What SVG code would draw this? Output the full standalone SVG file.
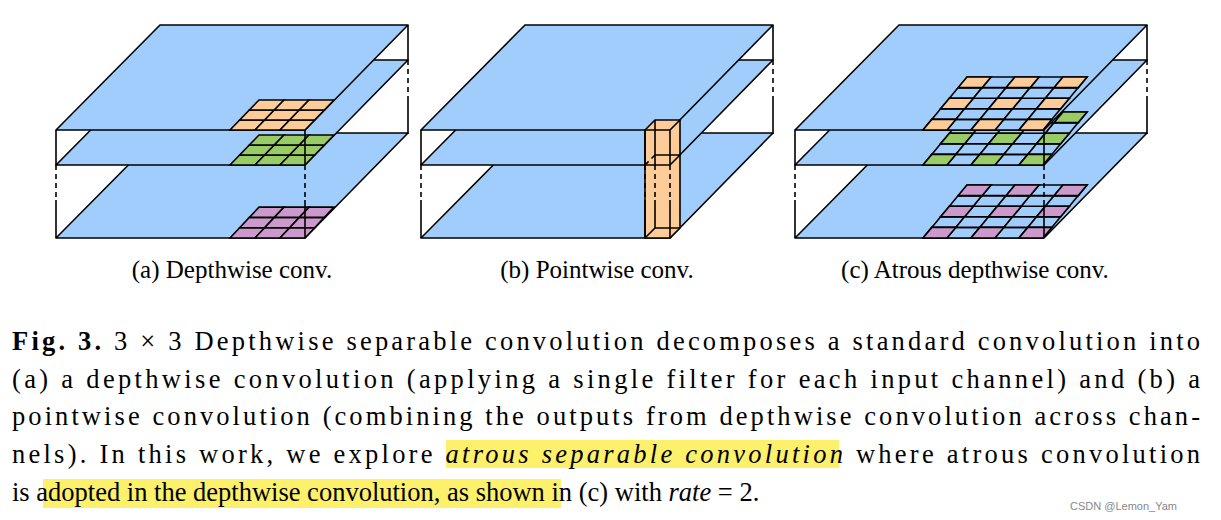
<svg xmlns="http://www.w3.org/2000/svg" width="1221" height="520" viewBox="0 0 1221 520">
<style>
.pl{fill:#a0cdfb;stroke:#000;stroke-width:1.6;stroke-linejoin:round}
.ln{stroke:#000;stroke-width:1.6;fill:none}
.dl{stroke:#000;stroke-width:1.6;fill:none;stroke-dasharray:5 4}
.cell{stroke:#000;stroke-width:1.6;vector-effect:non-scaling-stroke}
.cap{font-family:"Liberation Serif",serif;font-size:25px;fill:#000}
.body{font-family:"Liberation Serif",serif;font-size:26.5px;fill:#000}
</style>
<defs>
<path id="plane" d="M56,0 L305,0 L408,-105 L160,-105 Z"/>
<g id="g3">
<rect class="cell" x="0" y="0" width="25" height="1"/><rect class="cell" x="25" y="0" width="25" height="1"/><rect class="cell" x="50" y="0" width="25" height="1"/>
<rect class="cell" x="0" y="1" width="25" height="1"/><rect class="cell" x="25" y="1" width="25" height="1"/><rect class="cell" x="50" y="1" width="25" height="1"/>
<rect class="cell" x="0" y="2" width="25" height="1"/><rect class="cell" x="25" y="2" width="25" height="1"/><rect class="cell" x="50" y="2" width="25" height="1"/>
</g>
<g id="g5">
<rect class="cell" x="0" y="0" width="24" height="1"/><rect class="cell" x="24" y="0" width="24" height="1"/><rect class="cell" x="48" y="0" width="24" height="1"/><rect class="cell" x="72" y="0" width="24" height="1"/><rect class="cell" x="96" y="0" width="24" height="1"/>
<rect class="cell" x="0" y="1" width="24" height="1"/><rect class="cell" x="24" y="1" width="24" height="1"/><rect class="cell" x="48" y="1" width="24" height="1"/><rect class="cell" x="72" y="1" width="24" height="1"/><rect class="cell" x="96" y="1" width="24" height="1"/>
<rect class="cell" x="0" y="2" width="24" height="1"/><rect class="cell" x="24" y="2" width="24" height="1"/><rect class="cell" x="48" y="2" width="24" height="1"/><rect class="cell" x="72" y="2" width="24" height="1"/><rect class="cell" x="96" y="2" width="24" height="1"/>
<rect class="cell" x="0" y="3" width="24" height="1"/><rect class="cell" x="24" y="3" width="24" height="1"/><rect class="cell" x="48" y="3" width="24" height="1"/><rect class="cell" x="72" y="3" width="24" height="1"/><rect class="cell" x="96" y="3" width="24" height="1"/>
<rect class="cell" x="0" y="4" width="24" height="1"/><rect class="cell" x="24" y="4" width="24" height="1"/><rect class="cell" x="48" y="4" width="24" height="1"/><rect class="cell" x="72" y="4" width="24" height="1"/><rect class="cell" x="96" y="4" width="24" height="1"/>
</g>
<g id="g5c">
<rect class="cell" x="0" y="0" width="24" height="1"/><rect class="cell" x="48" y="0" width="24" height="1"/><rect class="cell" x="96" y="0" width="24" height="1"/>
<rect class="cell" x="0" y="2" width="24" height="1"/><rect class="cell" x="48" y="2" width="24" height="1"/><rect class="cell" x="96" y="2" width="24" height="1"/>
<rect class="cell" x="0" y="4" width="24" height="1"/><rect class="cell" x="48" y="4" width="24" height="1"/><rect class="cell" x="96" y="4" width="24" height="1"/>
</g>
<g id="edges">
<path class="ln" d="M56,130 V165 M56,200 V238 M305,130 V165 M305,200 V238 M408,25 V60 M408,97 V134"/>
<path class="dl" d="M56,165 V200 M305,165 V200 M408,60 V97"/>
</g>
</defs>

<g id="panel-a">
<use href="#plane" class="pl" transform="translate(0,238)"/>
<use href="#g3" fill="#cc99cc" transform="matrix(1,0,9.67,-10.3,230,238)"/>
<use href="#plane" class="pl" transform="translate(0,165)"/>
<use href="#g3" fill="#99cc66" transform="matrix(1,0,9.67,-10,230,165)"/>
<use href="#plane" class="pl" transform="translate(0,130)"/>
<use href="#g3" fill="#fdcc99" transform="matrix(1,0,9.67,-10,230,130)"/>
<use href="#edges"/>
</g>

<g id="panel-b" transform="translate(365,0)">
<use href="#plane" class="pl" transform="translate(0,238)"/>
<use href="#plane" class="pl" transform="translate(0,165)"/>
<use href="#plane" class="pl" transform="translate(0,130)"/>
<use href="#edges"/>
<path fill="#fdcc99" stroke="#000" stroke-width="1.6" d="M280,238 L305,238 L315,228 L315,120 L290,120 L280,130 Z"/>
<path class="ln" d="M280,130 H305 L315,120 M305,130 V165 M305,200 V238 M280,130 V165 M280,200 V238 M280,165 H305 L315,155 M290,155 H315 M290,120 V165 M290,200 V228 H315 M280,238 L290,228"/>
<path class="dl" d="M280,165 V200 M305,165 V200 M290,165 V200 M290,155 L280,165"/>
</g>

<g id="panel-c" transform="translate(739,0)">
<use href="#plane" class="pl" transform="translate(0,238)"/>
<use href="#g5" fill="#a0cdfb" transform="matrix(1,0,8.8,-10.6,184,238)"/>
<use href="#g5c" fill="#cc99cc" transform="matrix(1,0,8.8,-10.6,184,238)"/>
<use href="#plane" class="pl" transform="translate(0,165)"/>
<use href="#g5" fill="#a0cdfb" transform="matrix(1,0,8.8,-10.6,184,165)"/>
<use href="#g5c" fill="#99cc66" transform="matrix(1,0,8.8,-10.6,184,165)"/>
<use href="#plane" class="pl" transform="translate(0,130)"/>
<use href="#g5" fill="#a0cdfb" transform="matrix(1,0,8.8,-10.6,184,130)"/>
<use href="#g5c" fill="#fdcc99" transform="matrix(1,0,8.8,-10.6,184,130)"/>
<use href="#edges"/>
</g>

<g id="captions">
<text class="cap" x="232" y="278" text-anchor="middle">(a) Depthwise conv.</text>
<text class="cap" x="597" y="278" text-anchor="middle">(b) Pointwise conv.</text>
<text class="cap" x="975" y="278" text-anchor="middle">(c) Atrous depthwise conv.</text>
</g>

<g id="body">
<rect x="446" y="440" width="393" height="28" fill="#fdf06a"/>
<rect x="43" y="479" width="518" height="29" fill="#fdf06a"/>
<text class="body" x="12" y="350" textLength="1188" lengthAdjust="spacing"><tspan font-weight="bold">Fig. 3.</tspan> 3 × 3 Depthwise separable convolution decomposes a standard convolution into</text>
<text class="body" x="12" y="388" textLength="1188" lengthAdjust="spacing">(a) a depthwise convolution (applying a single filter for each input channel) and (b) a</text>
<text class="body" x="12" y="425" textLength="1188" lengthAdjust="spacing">pointwise convolution (combining the outputs from depthwise convolution across chan-</text>
<text class="body" x="12" y="463" textLength="1188" lengthAdjust="spacing">nels). In this work, we explore <tspan font-style="italic">atrous separable convolution</tspan> where atrous convolution</text>
<text class="body" x="12" y="501">is adopted in the depthwise convolution, as shown in (c) with <tspan font-style="italic">rate</tspan> = 2.</text>
<text x="1070" y="510" font-family="Liberation Sans,sans-serif" font-size="11" fill="#888">CSDN @Lemon_Yam</text>
</g>
</svg>
